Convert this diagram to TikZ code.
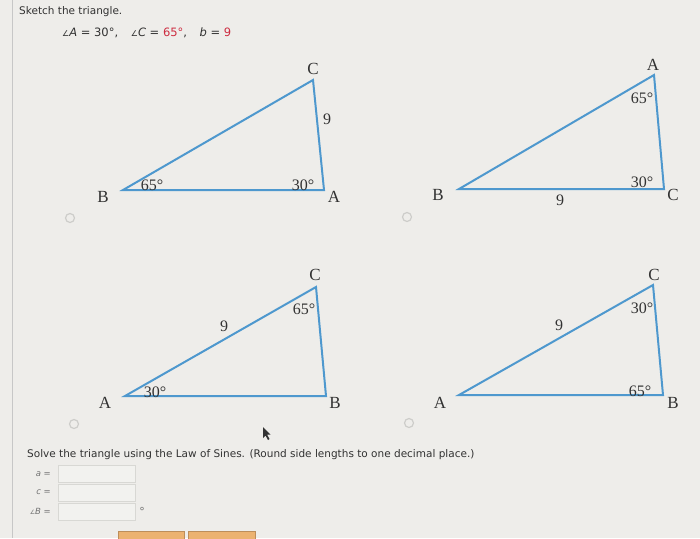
\documentclass[tikz,border=0pt]{standalone}
\usepackage{fontspec}
\setmainfont{Liberation Serif}
\newfontfamily\uifont{DejaVu Sans}
\definecolor{bgpage}{RGB}{238,237,234}
\definecolor{triblue}{RGB}{78,152,206}
\definecolor{labelgray}{RGB}{50,50,50}
\definecolor{givenred}{RGB}{205,45,65}
\definecolor{boxline}{RGB}{216,216,212}
\definecolor{boxfill}{RGB}{242,242,239}
\definecolor{btnorange}{RGB}{236,178,112}
\definecolor{radiogray}{RGB}{205,205,202}
\tikzset{
  side/.style={triblue,line width=2pt,line join=miter},
  vtx/.style={font=\fontsize{17}{17}\selectfont,text=labelgray,inner sep=0},
  ang/.style={font=\fontsize{16}{16}\selectfont,text=labelgray,inner sep=0},
  uitext/.style={font=\uifont\fontsize{10.5}{10.5}\selectfont,text=labelgray,inner sep=0},
  inlabel/.style={font=\uifont\fontsize{8.5}{8.5}\selectfont\itshape,text=black!55,inner sep=0,anchor=east},
  inbox/.style={draw=boxline,fill=boxfill,line width=0.8pt},
  radio/.style={draw=radiogray,line width=1.2pt}
}
\begin{document}
\begin{tikzpicture}[x=1pt,y=-1pt]
\fill[bgpage] (0,0) rectangle (700,538);
\useasboundingbox (0,0) rectangle (700,538);
\draw[black!22,line width=0.8pt] (12,0) -- (12,538);
\node[uitext,anchor=west] (prompt) at (19,12) {Sketch the triangle.};
\node[uitext,anchor=west,font=\uifont\fontsize{11.5}{11.5}\selectfont] (given) at (62,33) {{\fontsize{8}{8}\selectfont∠}\textit{A} = 30°,\hspace{1.1em}{\fontsize{8}{8}\selectfont∠}\textit{C} = \textcolor{givenred}{65°},\hspace{1.1em}\textit{b} = \textcolor{givenred}{9}};
\coordinate (B1) at (123,190);
\coordinate (A1) at (324,190);
\coordinate (C1) at (313,80);
\draw[side] (B1) -- (A1) -- (C1) -- cycle;
\node[vtx] (lB1) at (103,197) {B};
\node[vtx] (lA1) at (334,197) {A};
\node[vtx] (lC1) at (313,69) {C};
\node[ang] (s1) at (327,119) {9};
\node[ang] (g1) at (152,185) {65°};
\node[ang] (h1) at (303,185) {30°};
\coordinate (B2) at (459,189);
\coordinate (C2) at (664,189);
\coordinate (A2) at (654,75);
\draw[side] (B2) -- (C2) -- (A2) -- cycle;
\node[vtx] (lB2) at (438,195) {B};
\node[vtx] (lC2) at (673,195) {C};
\node[vtx] (lA2) at (653,65) {A};
\node[ang] (s2) at (560,200) {9};
\node[ang] (g2) at (642,98) {65°};
\node[ang] (h2) at (642,182) {30°};
\coordinate (A3) at (125,396);
\coordinate (B3) at (326,396);
\coordinate (C3) at (316,287);
\draw[side] (A3) -- (B3) -- (C3) -- cycle;
\node[vtx] (lA3) at (105,403) {A};
\node[vtx] (lB3) at (335,403) {B};
\node[vtx] (lC3) at (315,275) {C};
\node[ang] (s3) at (224,326) {9};
\node[ang] (g3) at (304,309) {65°};
\node[ang] (h3) at (155,392) {30°};
\coordinate (A4) at (459,395);
\coordinate (B4) at (663,395);
\coordinate (C4) at (653,285);
\draw[side] (A4) -- (B4) -- (C4) -- cycle;
\node[vtx] (lA4) at (440,403) {A};
\node[vtx] (lB4) at (673,403) {B};
\node[vtx] (lC4) at (654,275) {C};
\node[ang] (s4) at (559,325) {9};
\node[ang] (g4) at (640,391) {65°};
\node[ang] (h4) at (642,308) {30°};
\draw[radio] (70,218) circle (4.5);
\draw[radio] (407,217) circle (4.5);
\draw[radio] (74,424) circle (4.5);
\draw[radio] (409,423) circle (4.5);
\fill[black!80] (263,427) -- (263,438) -- (265.5,435.5) -- (268,440) -- (269.5,439) -- (267,434.5) -- (270.5,434.5) -- cycle;
\node[uitext,anchor=west] (task) at (27,455) {Solve the triangle using the Law of Sines. (Round side lengths to one decimal place.)};
\draw[inbox] (58,465) rectangle (135,482);
\draw[inbox] (58,484) rectangle (135,501);
\draw[inbox] (58,503) rectangle (135,520);
\node[inlabel] (la) at (51,474) {a =};
\node[inlabel] (lc) at (51,492) {c =};
\node[inlabel] (lb) at (51,511) {{\fontsize{6}{6}\selectfont∠}B =};
\node[inlabel,anchor=center,font=\uifont\fontsize{11}{11}\selectfont] (deg) at (142,511) {°};
\draw[btnorange!80!black,fill=btnorange,line width=0.6pt] (118,531) rectangle (184,540);
\draw[btnorange!80!black,fill=btnorange,line width=0.6pt] (188,531) rectangle (255,540);
\end{tikzpicture}
\end{document}
